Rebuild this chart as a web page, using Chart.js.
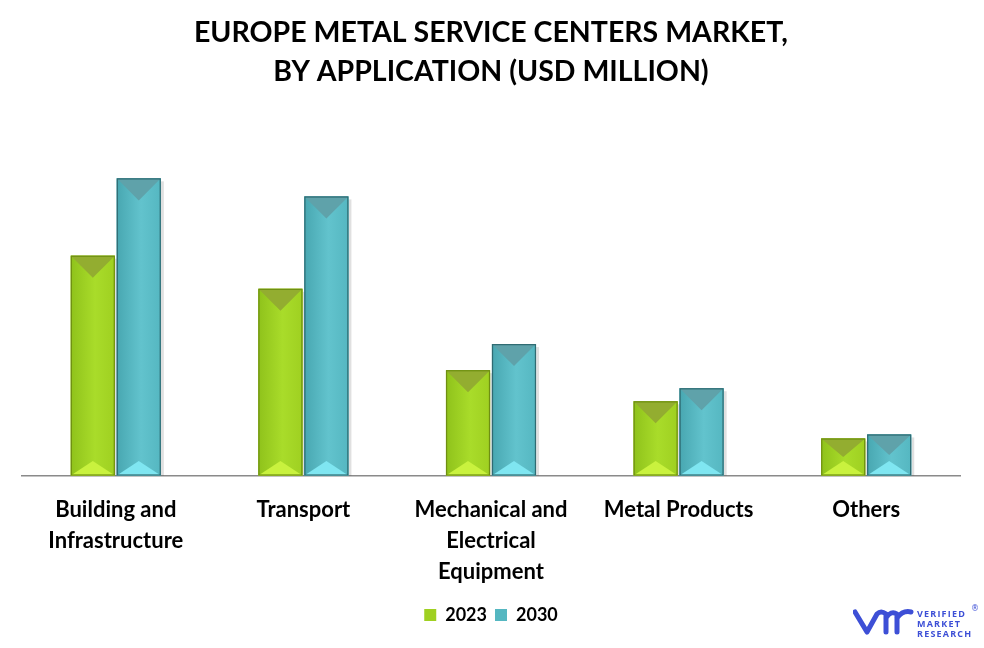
<!DOCTYPE html>
<html>
<head>
<meta charset="utf-8">
<script src="https://cdn.jsdelivr.net/npm/chart.js@4.4.1/dist/chart.umd.min.js"></script>
<style>
  html, body { margin: 0; padding: 0; background: #fff; }
  #wrap { position: relative; width: 984px; height: 648px; }
  #logo { position: absolute; left: 853px; top: 606px; width: 128px; height: 36px; }
  #logo .txt { position: absolute; left: 64px; top: 3px; font-family: "Open Sans", sans-serif; font-weight: 700;
               font-size: 9px; line-height: 10px; letter-spacing: 1.2px; color: #3d4fd6; }
  #logo .reg { position: absolute; left: 118px; top: -2px; font-size: 8px; color: #3d4fd6; font-family: "DejaVu Sans"; }
</style>
</head>
<body>
<div id="wrap">
  <canvas id="chart" width="984" height="648"></canvas>
  <div id="logo">
    <svg width="62" height="30" viewBox="0 0 62 30">
      <path d="M2 6 L14 26 L24 8 Q28 4 33 8 L33 26 M33 12 Q38 4 44 8 L44 26 M44 12 Q50 4 58 6"
            fill="none" stroke="#3d4fd6" stroke-width="5" stroke-linecap="round" stroke-linejoin="round"/>
    </svg>
    <div class="txt">VERIFIED<br>MARKET<br>RESEARCH</div>
    <div class="reg">®</div>
  </div>
</div>
<script>
// values (USD million, estimated)
const categories = [
  ['Building and', 'Infrastructure'],
  'Transport',
  ['Mechanical and', 'Electrical', 'Equipment'],
  'Metal Products',
  'Others'
];
const values2023 = [4380, 3720, 2100, 1480, 740];
const values2030 = [5920, 5560, 2620, 1740, 820];
const seriesNames = ['2023', '2030'];

// bevel faces for each series
const faces = [
  { left: '#8fc21b', mid: '#a9dc2a', right: '#9fd021', top: '#93ad30', bottom: '#c9f23e', edge: '#6f8f12' },
  { left: '#48a7b1', mid: '#62c3cd', right: '#55b7c1', top: '#5fa2aa', bottom: '#7fe6f1', edge: '#2f6b72' }
];

const bevelPlugin = {
  id: 'bevel',
  afterDatasetsDraw(chart) {
    const ctx = chart.ctx;
    chart.data.datasets.forEach((ds, di) => {
      const meta = chart.getDatasetMeta(di);
      const f = faces[di];
      meta.data.forEach(bar => {
        const w = bar.width;
        const x0 = bar.x - w / 2, x1 = bar.x + w / 2;
        const y0 = bar.y, y1 = bar.base;
        const h = y1 - y0;
        const cx = bar.x;
        const dTop = Math.min(w / 2, h / 2);
        const dBot = Math.min(w / 3, h / 2);
        ctx.save();
        // shadow
        ctx.fillStyle = 'rgba(0,0,0,0.12)';
        ctx.fillRect(x1, y0 + 3, 3, h - 3);
        // body with horizontal gradient
        const g = ctx.createLinearGradient(x0, 0, x1, 0);
        g.addColorStop(0, f.left);
        g.addColorStop(0.55, f.mid);
        g.addColorStop(1, f.right);
        ctx.fillStyle = g;
        ctx.fillRect(x0, y0, w, h);
        // top face
        ctx.fillStyle = f.top;
        ctx.beginPath();
        ctx.moveTo(x0, y0); ctx.lineTo(x1, y0); ctx.lineTo(cx, y0 + dTop); ctx.closePath();
        ctx.fill();
        // bottom face
        ctx.fillStyle = f.bottom;
        ctx.beginPath();
        ctx.moveTo(x0, y1); ctx.lineTo(x1, y1); ctx.lineTo(cx, y1 - dBot); ctx.closePath();
        ctx.fill();
        // edge
        ctx.strokeStyle = f.edge;
        ctx.lineWidth = 1.2;
        ctx.strokeRect(x0 + 0.6, y0 + 0.6, w - 1.2, h - 1.2);
        ctx.restore();
      });
    });
  }
};

new Chart(document.getElementById('chart'), {
  type: 'bar',
  data: {
    labels: categories,
    datasets: [
      { label: seriesNames[0], data: values2023, backgroundColor: '#9fd021',
        categoryPercentage: 0.49, barPercentage: 0.96 },
      { label: seriesNames[1], data: values2030, backgroundColor: '#55b7c1',
        categoryPercentage: 0.49, barPercentage: 0.96 }
    ]
  },
  options: {
    responsive: false,
    animation: false,
    layout: { padding: { left: 22, right: 24, bottom: 14 } },
    plugins: {
      title: {
        display: true,
        text: ['EUROPE METAL SERVICE CENTERS MARKET,', 'BY APPLICATION (USD MILLION)'],
        color: '#000',
        font: { family: 'Lato', weight: 'bold', size: 28.5, lineHeight: 1.37 },
        padding: { top: 13.5, bottom: 30 }
      },
      legend: {
        position: 'bottom',
        labels: {
          color: '#000',
          font: { family: 'Lato', weight: 'bold', size: 18 },
          boxWidth: 12, boxHeight: 12, padding: 8
        }
      },
      tooltip: { enabled: false }
    },
    scales: {
      x: {
        grid: { display: false },
        border: { color: '#8a8a8a', width: 1.5 },
        ticks: {
          color: '#000',
          font: { family: 'Lato', weight: 'bold', size: 22, lineHeight: 1.4 },
          padding: 11,
          maxRotation: 0
        }
      },
      y: {
        display: false,
        min: 0,
        max: 7050
      }
    }
  },
  plugins: [bevelPlugin]
});
</script>
</body>
</html>
